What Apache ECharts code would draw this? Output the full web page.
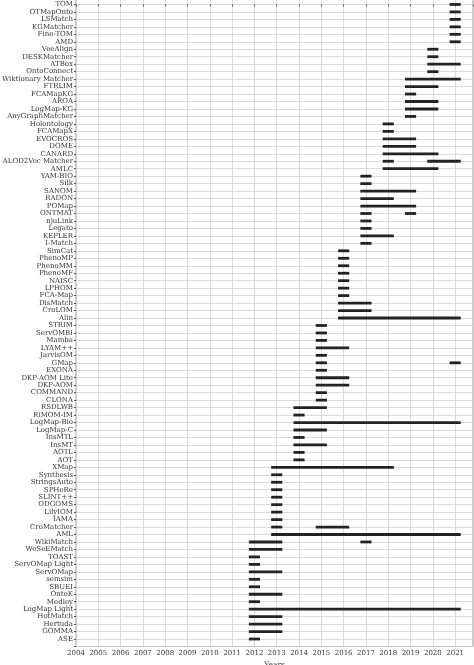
<!DOCTYPE html>
<html>
<head>
<meta charset="utf-8">
<script src="https://cdn.jsdelivr.net/npm/echarts@6/dist/echarts.min.js"></script>
<style>html,body{margin:0;padding:0;background:#fff}#chart{width:474px;height:665px}</style>
</head>
<body>
<div id="chart"></div>
<script>
// systems, top to bottom
const systems = ['TOM','OTMapOnto','LSMatch','KGMatcher','Fine-TOM','AMD','VeeAlign','DESKMatcher','ATBox','OntoConnect',
  'Wiktionary Matcher','FTRLIM','FCAMapKG','AROA','LogMap-KG','AnyGraphMatcher','Holontology','FCAMapX','EVOCROS','DOME',
  'CANARD','ALOD2Vec Matcher','AMLC','YAM-BIO','Silk','SANOM','RADON','POMap','ONTMAT','njuLink','Legato','KEPLER','I-Match',
  'SimCat','PhenoMP','PhenoMM','PhenoMF','NAISC','LPHOM','FCA-Map','DisMatch','CroLOM','Alin','STRIM','ServOMBI','Mamba',
  'LYAM++','JarvisOM','GMap','EXONA','DKP-AOM Lite','DKP-AOM','COMMAND','CLONA','RSDLWB','RiMOM-IM','LogMap-Bio','LogMap-C',
  'InsMTL','InsMT','AOTL','AOT','XMap','Synthesis','StringsAuto','SPHeRe','SLINT++','ODGOMS','LilyIOM','IAMA','CroMatcher',
  'AML','WikiMatch','WeSeEMatch','TOAST','ServOMap Light','ServOMap','semsim','SBUEI','OntoK','Medley','LogMap Light',
  'HotMatch','Hertuda','GOMMA','ASE'];

// participation spans per system: [firstYear, lastYear]
const spans = {
  'TOM': [[2021,2021]], 'OTMapOnto': [[2021,2021]], 'LSMatch': [[2021,2021]], 'KGMatcher': [[2021,2021]],
  'Fine-TOM': [[2021,2021]], 'AMD': [[2021,2021]], 'VeeAlign': [[2020,2020]], 'DESKMatcher': [[2020,2020]],
  'ATBox': [[2020,2021]], 'OntoConnect': [[2020,2020]], 'Wiktionary Matcher': [[2019,2021]], 'FTRLIM': [[2019,2020]],
  'FCAMapKG': [[2019,2019]], 'AROA': [[2019,2020]], 'LogMap-KG': [[2019,2020]], 'AnyGraphMatcher': [[2019,2019]],
  'Holontology': [[2018,2018]], 'FCAMapX': [[2018,2018]], 'EVOCROS': [[2018,2019]], 'DOME': [[2018,2019]],
  'CANARD': [[2018,2020]], 'ALOD2Vec Matcher': [[2018,2018],[2020,2021]], 'AMLC': [[2018,2020]],
  'YAM-BIO': [[2017,2017]], 'Silk': [[2017,2017]], 'SANOM': [[2017,2019]], 'RADON': [[2017,2018]],
  'POMap': [[2017,2019]], 'ONTMAT': [[2017,2017],[2019,2019]], 'njuLink': [[2017,2017]], 'Legato': [[2017,2017]],
  'KEPLER': [[2017,2018]], 'I-Match': [[2017,2017]], 'SimCat': [[2016,2016]], 'PhenoMP': [[2016,2016]],
  'PhenoMM': [[2016,2016]], 'PhenoMF': [[2016,2016]], 'NAISC': [[2016,2016]], 'LPHOM': [[2016,2016]],
  'FCA-Map': [[2016,2016]], 'DisMatch': [[2016,2017]], 'CroLOM': [[2016,2017]], 'Alin': [[2016,2021]],
  'STRIM': [[2015,2015]], 'ServOMBI': [[2015,2015]], 'Mamba': [[2015,2015]], 'LYAM++': [[2015,2016]],
  'JarvisOM': [[2015,2015]], 'GMap': [[2015,2015],[2021,2021]], 'EXONA': [[2015,2015]], 'DKP-AOM Lite': [[2015,2016]],
  'DKP-AOM': [[2015,2016]], 'COMMAND': [[2015,2015]], 'CLONA': [[2015,2015]], 'RSDLWB': [[2014,2015]],
  'RiMOM-IM': [[2014,2014]], 'LogMap-Bio': [[2014,2021]], 'LogMap-C': [[2014,2015]], 'InsMTL': [[2014,2014]],
  'InsMT': [[2014,2015]], 'AOTL': [[2014,2014]], 'AOT': [[2014,2014]], 'XMap': [[2013,2018]],
  'Synthesis': [[2013,2013]], 'StringsAuto': [[2013,2013]], 'SPHeRe': [[2013,2013]], 'SLINT++': [[2013,2013]],
  'ODGOMS': [[2013,2013]], 'LilyIOM': [[2013,2013]], 'IAMA': [[2013,2013]], 'CroMatcher': [[2013,2013],[2015,2016]],
  'AML': [[2013,2021]], 'WikiMatch': [[2012,2013],[2017,2017]], 'WeSeEMatch': [[2012,2013]], 'TOAST': [[2012,2012]],
  'ServOMap Light': [[2012,2012]], 'ServOMap': [[2012,2013]], 'semsim': [[2012,2012]], 'SBUEI': [[2012,2012]],
  'OntoK': [[2012,2013]], 'Medley': [[2012,2012]], 'LogMap Light': [[2012,2021]], 'HotMatch': [[2012,2013]],
  'Hertuda': [[2012,2013]], 'GOMMA': [[2012,2013]], 'ASE': [[2012,2012]]
};

const segData = [];
systems.forEach((name, i) => {
  (spans[name] || []).forEach(s => segData.push([i, s[0] - 0.25, s[1] + 0.25]));
});

const font = 'DejaVu Serif';
const chart = echarts.init(document.getElementById('chart'));
chart.setOption({
  animation: false,
  grid: { left: 76, right: 1, top: -3, bottom: 18.5, containLabel: false, outerBoundsMode: 'none',
    show: true, borderColor: '#999', borderWidth: 1 },
  xAxis: {
    type: 'value', min: 2004, max: 2021.8, interval: 1,
    name: 'Years', nameLocation: 'middle', nameGap: 11,
    nameTextStyle: { fontFamily: font, fontSize: 7.5, color: '#333' },
    axisLine: { show: false }, axisTick: { show: true, length: 2, lineStyle: { color: '#555' } },
    axisLabel: { fontFamily: font, fontSize: 7, color: '#333', margin: 3,
      formatter: v => Number.isInteger(v) ? String(v) : '' },
    splitLine: { lineStyle: { color: '#d0d0d0', width: 0.8 } }
  },
  yAxis: {
    type: 'value', inverse: true, min: -1, max: systems.length, interval: 1,
    name: 'Matching Systems', nameLocation: 'middle', nameGap: 72, nameRotate: 90,
    nameTextStyle: { fontFamily: font, fontSize: 7.5, color: '#333' },
    axisLine: { show: false }, axisTick: { show: true, length: 2, lineStyle: { color: '#555' } },
    axisLabel: { fontFamily: font, fontSize: 7, color: '#333', margin: 3,
      formatter: v => (v >= 0 && v < systems.length) ? systems[v] : '' },
    splitLine: { lineStyle: { color: '#d0d0d0', width: 0.8 } }
  },
  series: [{
    type: 'custom',
    data: segData,
    encode: { x: [1, 2], y: 0 },
    renderItem: (params, api) => {
      const a = api.coord([api.value(1), api.value(0)]);
      const b = api.coord([api.value(2), api.value(0)]);
      return { type: 'rect', shape: { x: a[0], y: a[1] - 1.4, width: b[0] - a[0], height: 2.8 },
        style: { fill: '#222' } };
    }
  }]
});
</script>
</body>
</html>
